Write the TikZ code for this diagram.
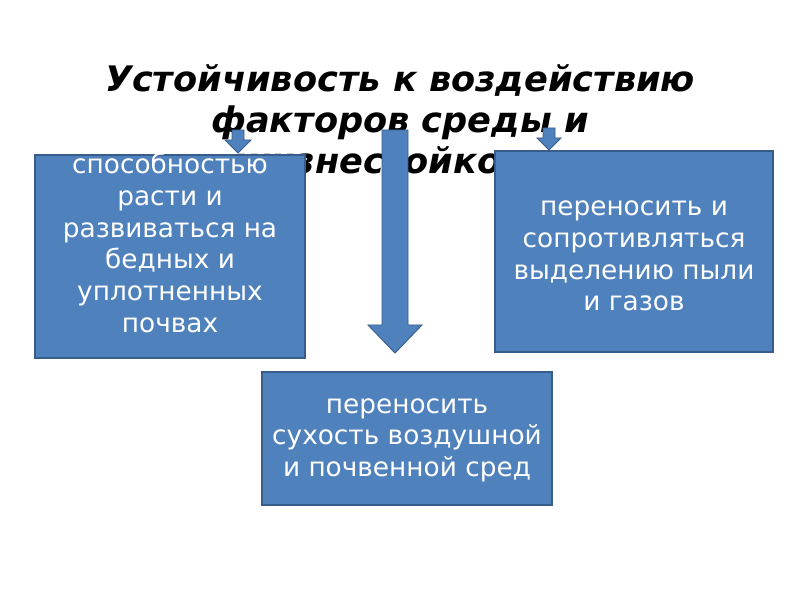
\documentclass[tikz,border=0pt]{standalone}
\usepackage{fontspec}
\setmainfont{DejaVu Sans}
\usepackage{tikz}
\usetikzlibrary{positioning}
\definecolor{boxfill}{RGB}{79,129,189}
\definecolor{boxedge}{RGB}{56,93,138}
% block arrow pointing down: x, top, head start, tip, half shaft, half head
\newcommand{\downblock}[6]{%
  \draw[blockarrow] (#1-#5,#2) -- (#1+#5,#2) -- (#1+#5,#3) -- (#1+#6,#3)
    -- (#1,#4) -- (#1-#6,#3) -- (#1-#5,#3) -- cycle;}

\begin{document}
\begin{tikzpicture}[x=0.03cm,y=-0.03cm,
  every node/.style={inner sep=0pt},
  bluebox/.style={draw=boxedge, line width=1.3pt, fill=boxfill},
  boxtext/.style={text=white, font=\fontsize{22.5}{27}\selectfont, align=center},
  blockarrow/.style={draw=boxedge, line width=0.8pt, fill=boxfill}]
  \useasboundingbox[fill=white] (0,0) rectangle (800,600);
  % title
  \node[font=\fontsize{30}{35}\bfseries\itshape\selectfont, align=center] (title) at (400,119)
    {Устойчивость к воздействию\\ факторов среды и\\ жизнестойкость};
  % boxes
  \node[bluebox, minimum width=270*0.03cm, minimum height=203*0.03cm] (soil) at (170,256.5) {};
  \node[boxtext] (soiltext) at (170,243)
    {способностью\\ расти и\\ развиваться на\\ бедных и\\ уплотненных\\ почвах};
  \node[bluebox, minimum width=278*0.03cm, minimum height=201*0.03cm] (gas) at (634,251.5) {};
  \node[boxtext] (gastext) at (634,256)
    {переносить и\\ сопротивляться\\ выделению пыли\\ и газов};
  \node[bluebox, minimum width=290*0.03cm, minimum height=133*0.03cm] (dry) at (407,438.5) {};
  \node[boxtext] (drytext) at (407,440)
    {переносить\\ сухость воздушной\\ и почвенной сред};
  % arrows
  \downblock{238}{130}{140}{153}{6}{13}
  \downblock{549}{128}{138}{150}{6}{12}
  \downblock{395}{130}{325}{353}{13}{27}
\end{tikzpicture}
\end{document}
